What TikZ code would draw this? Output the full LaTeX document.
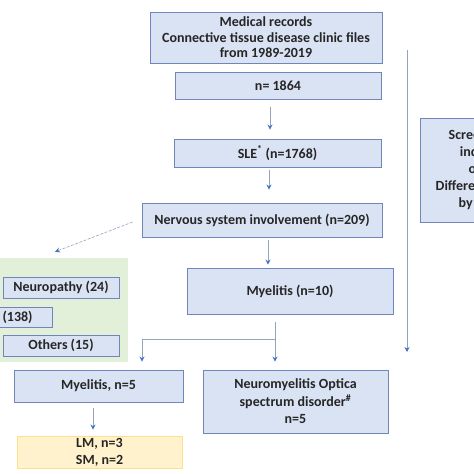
\documentclass[tikz,border=0pt]{standalone}
\usepackage{fontspec}
\setmainfont{Carlito}
\usetikzlibrary{calc}
\usetikzlibrary{arrows.meta}

\definecolor{boxfill}{HTML}{DAE3F3}
\definecolor{boxline}{RGB}{112,134,186}
\definecolor{lineC}{RGB}{150,162,186}
\definecolor{tipC}{RGB}{68,114,196}
\definecolor{greenfill}{HTML}{E2F0D9}
\definecolor{yellowfill}{HTML}{FFF2CC}
\definecolor{yellowline}{HTML}{FFE08A}

\tikzset{
    nbox/.style={draw=boxline, fill=boxfill, line width=0.9pt, inner sep=0pt,
        font=\bfseries\fontsize{14}{15.5}\selectfont, align=center, text=black!85},
    arr/.style={draw=lineC, line width=0.8pt, -{Stealth[length=5pt,width=5pt,color=tipC]}},
    link/.style={draw=lineC, line width=0.8pt}
}

\begin{document}
\begin{tikzpicture}[x=1pt,y=-1pt]

    \useasboundingbox (0,0) rectangle (474,474);
    \clip (0,0) rectangle (474,474);

    \node [fill=greenfill, minimum width=138, minimum height=104] (side) at (59,310) {};

    \node [nbox, minimum width=232, minimum height=51] (rec) at (266,37.5)
        {Medical records\\Connective tissue disease clinic files\\from 1989-2019};
    \node [nbox, minimum width=206, minimum height=27] (tot) at (278,85.5) {n= 1864};
    \node [nbox, minimum width=207, minimum height=28] (sle) at (277.5,153)
        {SLE\textsuperscript{*} (n=1768)};
    \node [nbox, minimum width=240, minimum height=34] (nerv) at (262,220)
        {Nervous system involvement (n=209)};
    \node [nbox, minimum width=206, minimum height=46] (mye) at (290,291) {Myelitis (n=10)};

    \node [nbox, minimum width=116, minimum height=21] (neuro) at (61,287.5) {Neuropathy (24)};
    \node [nbox, text width=95, minimum height=20, align=right, anchor=east] (psy) at (53,317)
        {(138)\hspace*{20pt}};
    \node [nbox, minimum width=116, minimum height=21] (oth) at (61,345.5) {Others (15)};

    \node [nbox, minimum width=169, minimum height=32] (mye5) at (98.5,386) {Myelitis, n=5};
    \node [nbox, minimum width=165, minimum height=32, fill=yellowfill, draw=yellowline,
        font=\bfseries\fontsize{14}{17}\selectfont] (lmsm) at (99.5,452)
        {LM, n=3\\SM, n=2};
    \node [nbox, minimum width=185, minimum height=63, font=\bfseries\fontsize{14}{17.5}\selectfont] (nmo) at (295.5,401.5)
        {Neuromyelitis Optica\\spectrum disorder\textsuperscript{\#}\\n=5};

    \node [nbox, minimum width=154, minimum height=104, font=\bfseries\fontsize{14}{17}\selectfont] (scr) at (497,170)
        {Screened by two\\independent\\observers\\Differential diagnosis\\by consensus};

    \coordinate (scrtop) at (407,50);
    \coordinate (scrend) at (407,352);
    \coordinate (split) at (275,339);
    \coordinate (splitl) at (142,339);

    \draw [arr] ([xshift=-8pt,yshift=-8pt]tot.south) -- ([xshift=-8pt,yshift=9pt]tot.south |- sle.north);
    \draw [arr] ([xshift=-8.5pt,yshift=-3pt]sle.south) -- ([xshift=-8.5pt,yshift=13pt]sle.south |- nerv.north);
    \draw [arr] ([xshift=6pt,yshift=-3pt]nerv.south) -- ([xshift=6pt,yshift=3pt]nerv.south |- mye.north);
    \draw [arr, dashed, dash pattern=on 3pt off 1.5pt, line width=0.6pt] ([xshift=-9pt,yshift=-2pt]nerv.west) -- ([xshift=-4pt,yshift=6pt]side.north);

    \draw [link] ([xshift=-15pt,yshift=-8pt]mye.south) -- (split) -- (splitl);
    \draw [arr] (split) -- ([yshift=8pt]split |- nmo.north);
    \draw [arr] (splitl) -- ([yshift=8pt]splitl |- mye5.north);
    \draw [arr] ([xshift=-5.5pt,yshift=-6pt]mye5.south) -- ([xshift=-5.5pt,yshift=6pt]mye5.south |- lmsm.north);

    \draw [arr] (scrtop) -- (scrend);
\end{tikzpicture}
\end{document}
